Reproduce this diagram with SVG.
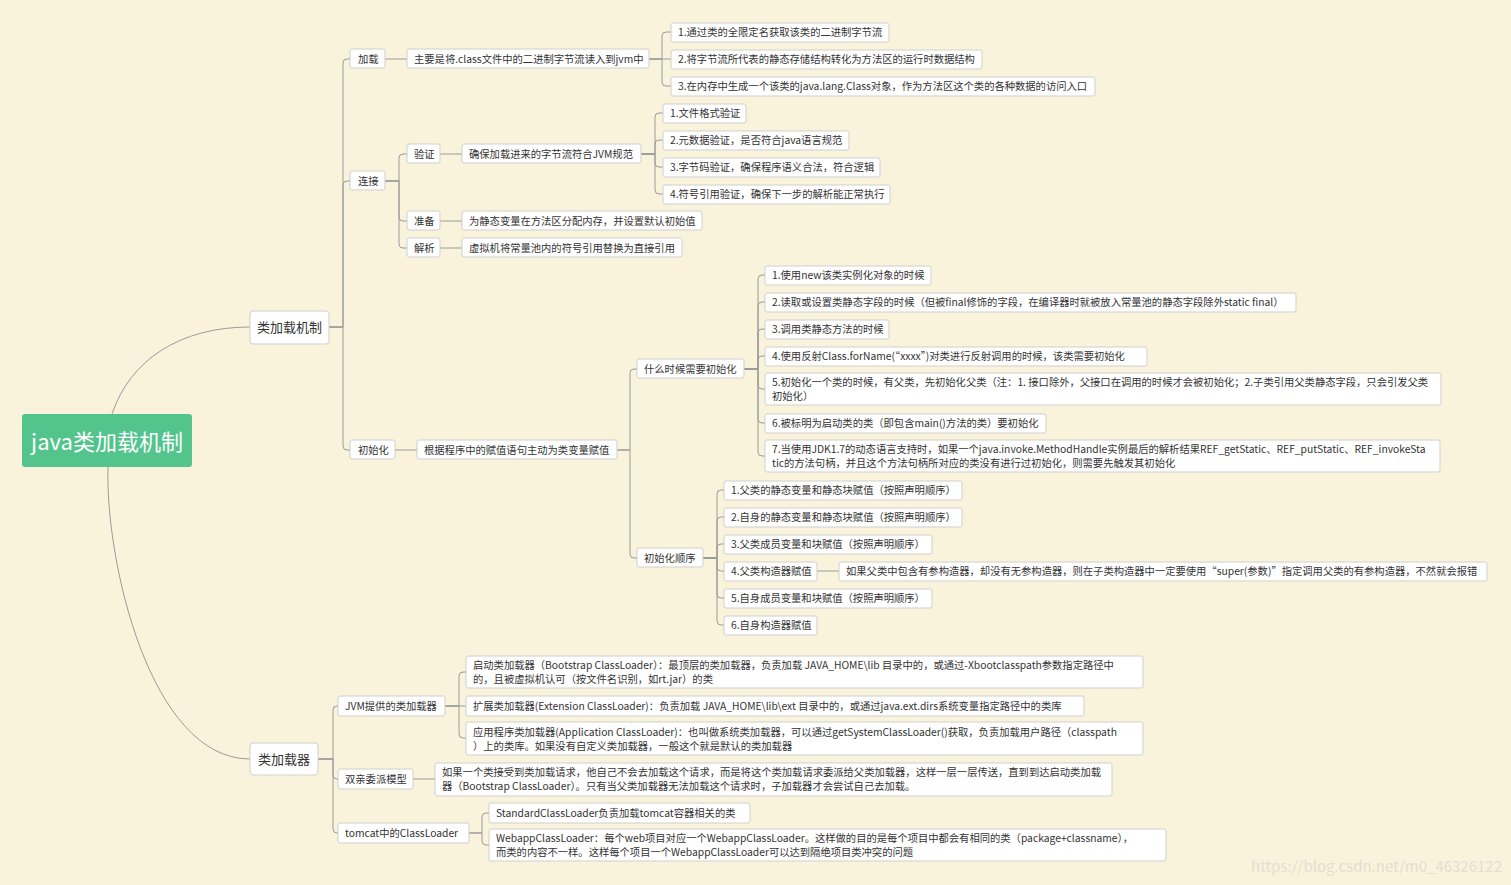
<svg xmlns="http://www.w3.org/2000/svg" width="1511" height="885" viewBox="0 0 1511 885">
<style>
text{font-family:"Noto Sans CJK SC","Liberation Sans",sans-serif;fill:#333;font-size:10.3px}
.n rect{fill:#fff;stroke:#cfcfcf;stroke-width:1}
.c path{fill:none;stroke:#9a9a9a;stroke-width:1}
.l2 text{font-size:13px}
</style>
<rect width="1511" height="885" fill="#faf3dc"/>
<g class="c" id="connectors">
<path d="M112,414C130,360 180,327 250,327"/>
<path d="M108,467C105,560 150,759 250,759"/>
<path d="M329,327H343V63Q343,59 347,59H350"/>
<path d="M329,327H343V185Q343,181 347,181H350"/>
<path d="M329,327H343V446Q343,450 347,450H350"/>
<path d="M385,59H407"/>
<path d="M649,59H662V36Q662,32 666,32H671"/>
<path d="M649,59H671"/>
<path d="M649,59H662V82Q662,86 666,86H671"/>
<path d="M385,181H399V158Q399,154 403,154H407"/>
<path d="M385,181H399V217Q399,221 403,221H407"/>
<path d="M385,181H399V244Q399,248 403,248H407"/>
<path d="M440,154H462"/>
<path d="M440,221H462"/>
<path d="M440,248H462"/>
<path d="M641,154H655V117Q655,113 659,113H663"/>
<path d="M641,154H655V144Q655,140 659,140H663"/>
<path d="M641,154H655V163Q655,167 659,167H663"/>
<path d="M641,154H655V190Q655,194 659,194H663"/>
<path d="M395,450H417"/>
<path d="M617,450H630V373Q630,369 634,369H637"/>
<path d="M617,450H630V554Q630,558 634,558H637"/>
<path d="M744,369H758V279Q758,275 762,275H765"/>
<path d="M744,369H758V306Q758,302 762,302H765"/>
<path d="M744,369H758V333Q758,329 762,329H765"/>
<path d="M744,369H758V360Q758,356 762,356H765"/>
<path d="M744,369H758V385Q758,389 762,389H765"/>
<path d="M744,369H758V419Q758,423 762,423H765"/>
<path d="M744,369H758V452Q758,456 762,456H765"/>
<path d="M703,558H717V494Q717,490 721,490H724"/>
<path d="M703,558H717V521Q717,517 721,517H724"/>
<path d="M703,558H717V548Q717,544 721,544H724"/>
<path d="M703,558H717V567Q717,571 721,571H724"/>
<path d="M703,558H717V594Q717,598 721,598H724"/>
<path d="M703,558H717V621Q717,625 721,625H724"/>
<path d="M817,571H839"/>
<path d="M318,759H333V710Q333,706 337,706H338"/>
<path d="M318,759H333V775Q333,779 337,779H338"/>
<path d="M318,759H333V829Q333,833 337,833H338"/>
<path d="M445,706H459V676Q459,672 463,672H466"/>
<path d="M445,706H466"/>
<path d="M445,706H459V734Q459,738 463,738H466"/>
<path d="M413,779H435"/>
<path d="M469,833H482V817Q482,813 486,813H489"/>
<path d="M469,833H482V841Q482,845 486,845H489"/>
</g>
<g id="root"><rect x="22" y="414" width="170" height="53" rx="3" fill="#52c48c"/><text x="107" y="450" text-anchor="middle" style="font-size:22px;fill:#fff">java类加载机制</text></g>
<g id="m1" class="n l2"><rect x="250" y="311" width="79" height="33" rx="3"/><text x="289.5" y="332" text-anchor="middle">类加载机制</text></g>
<g id="m2" class="n l2"><rect x="250" y="743" width="68" height="32" rx="3"/><text x="284" y="764" text-anchor="middle">类加载器</text></g>
<g id="load" class="n"><rect x="350" y="49" width="35" height="19" rx="2"/><text x="358" y="63">加载</text></g>
<g id="load-d" class="n"><rect x="407" y="49" width="242" height="19" rx="2"/><text x="414" y="63">主要是将.class文件中的二进制字节流读入到jvm中</text></g>
<g id="load1" class="n"><rect x="671" y="23" width="218" height="19" rx="2"/><text x="678" y="36">1.通过类的全限定名获取该类的二进制字节流</text></g>
<g id="load2" class="n"><rect x="671" y="50" width="311" height="19" rx="2"/><text x="678" y="63">2.将字节流所代表的静态存储结构转化为方法区的运行时数据结构</text></g>
<g id="load3" class="n"><rect x="671" y="77" width="424" height="19" rx="2"/><text x="678" y="90">3.在内存中生成一个该类的java.lang.Class对象，作为方法区这个类的各种数据的访问入口</text></g>
<g id="link" class="n"><rect x="350" y="171" width="35" height="19" rx="2"/><text x="358" y="185">连接</text></g>
<g id="verify" class="n"><rect x="407" y="144" width="33" height="19" rx="2"/><text x="414" y="158">验证</text></g>
<g id="verify-d" class="n"><rect x="462" y="144" width="179" height="19" rx="2"/><text x="469" y="158">确保加载进来的字节流符合JVM规范</text></g>
<g id="v1" class="n"><rect x="663" y="104" width="83" height="19" rx="2"/><text x="670" y="117">1.文件格式验证</text></g>
<g id="v2" class="n"><rect x="663" y="131" width="186" height="19" rx="2"/><text x="670" y="144">2.元数据验证，是否符合java语言规范</text></g>
<g id="v3" class="n"><rect x="663" y="158" width="217" height="19" rx="2"/><text x="670" y="171">3.字节码验证，确保程序语义合法，符合逻辑</text></g>
<g id="v4" class="n"><rect x="663" y="185" width="227" height="19" rx="2"/><text x="670" y="198">4.符号引用验证，确保下一步的解析能正常执行</text></g>
<g id="prep" class="n"><rect x="407" y="211" width="33" height="19" rx="2"/><text x="414" y="225">准备</text></g>
<g id="prep-d" class="n"><rect x="462" y="211" width="240" height="19" rx="2"/><text x="469" y="225">为静态变量在方法区分配内存，并设置默认初始值</text></g>
<g id="resolve" class="n"><rect x="407" y="238" width="33" height="19" rx="2"/><text x="414" y="252">解析</text></g>
<g id="resolve-d" class="n"><rect x="462" y="238" width="220" height="19" rx="2"/><text x="469" y="252">虚拟机将常量池内的符号引用替换为直接引用</text></g>
<g id="init" class="n"><rect x="350" y="440" width="45" height="19" rx="2"/><text x="358" y="454">初始化</text></g>
<g id="init-d" class="n"><rect x="417" y="440" width="200" height="19" rx="2"/><text x="424" y="454">根据程序中的赋值语句主动为类变量赋值</text></g>
<g id="when" class="n"><rect x="637" y="359" width="107" height="19" rx="2"/><text x="644" y="373">什么时候需要初始化</text></g>
<g id="w1" class="n"><rect x="765" y="266" width="166" height="19" rx="2"/><text x="772" y="279">1.使用new该类实例化对象的时候</text></g>
<g id="w2" class="n"><rect x="765" y="293" width="531" height="19" rx="2"/><text x="772" y="306">2.读取或设置类静态字段的时候（但被final修饰的字段，在编译器时就被放入常量池的静态字段除外static final）</text></g>
<g id="w3" class="n"><rect x="765" y="320" width="124" height="19" rx="2"/><text x="772" y="333">3.调用类静态方法的时候</text></g>
<g id="w4" class="n"><rect x="765" y="347" width="382" height="19" rx="2"/><text x="772" y="360">4.使用反射Class.forName(“xxxx”)对类进行反射调用的时候，该类需要初始化</text></g>
<g id="w5" class="n"><rect x="765" y="373" width="676" height="32" rx="2"/><text x="772" y="386">5.初始化一个类的时候，有父类，先初始化父类（注：1. 接口除外，父接口在调用的时候才会被初始化；2.子类引用父类静态字段，只会引发父类</text><text x="772" y="400">初始化）</text></g>
<g id="w6" class="n"><rect x="765" y="414" width="281" height="19" rx="2"/><text x="772" y="427">6.被标明为启动类的类（即包含main()方法的类）要初始化</text></g>
<g id="w7" class="n"><rect x="765" y="440" width="675" height="32" rx="2"/><text x="772" y="453">7.当使用JDK1.7的动态语言支持时，如果一个java.invoke.MethodHandle实例最后的解析结果REF_getStatic、REF_putStatic、REF_invokeSta</text><text x="772" y="467">tic的方法句柄，并且这个方法句柄所对应的类没有进行过初始化，则需要先触发其初始化</text></g>
<g id="order" class="n"><rect x="637" y="548" width="66" height="19" rx="2"/><text x="644" y="562">初始化顺序</text></g>
<g id="o1" class="n"><rect x="724" y="481" width="238" height="19" rx="2"/><text x="731" y="494">1.父类的静态变量和静态块赋值（按照声明顺序）</text></g>
<g id="o2" class="n"><rect x="724" y="508" width="238" height="19" rx="2"/><text x="731" y="521">2.自身的静态变量和静态块赋值（按照声明顺序）</text></g>
<g id="o3" class="n"><rect x="724" y="535" width="208" height="19" rx="2"/><text x="731" y="548">3.父类成员变量和块赋值（按照声明顺序）</text></g>
<g id="o4" class="n"><rect x="724" y="562" width="93" height="19" rx="2"/><text x="731" y="575">4.父类构造器赋值</text></g>
<g id="o4-d" class="n"><rect x="839" y="562" width="648" height="19" rx="2"/><text x="846" y="575">如果父类中包含有参构造器，却没有无参构造器，则在子类构造器中一定要使用“super(参数)”指定调用父类的有参构造器，不然就会报错</text></g>
<g id="o5" class="n"><rect x="724" y="589" width="208" height="19" rx="2"/><text x="731" y="602">5.自身成员变量和块赋值（按照声明顺序）</text></g>
<g id="o6" class="n"><rect x="724" y="616" width="93" height="19" rx="2"/><text x="731" y="629">6.自身构造器赋值</text></g>
<g id="jvm" class="n"><rect x="338" y="696" width="107" height="20" rx="2"/><text x="345" y="710">JVM提供的类加载器</text></g>
<g id="boot" class="n"><rect x="466" y="656" width="677" height="32" rx="2"/><text x="473" y="669">启动类加载器（Bootstrap ClassLoader）：最顶层的类加载器，负责加载 JAVA_HOME\lib 目录中的，或通过-Xbootclasspath参数指定路径中</text><text x="473" y="683">的，且被虚拟机认可（按文件名识别，如rt.jar）的类</text></g>
<g id="ext" class="n"><rect x="466" y="696" width="618" height="20" rx="2"/><text x="473" y="710">扩展类加载器(Extension ClassLoader)：负责加载 JAVA_HOME\lib\ext 目录中的，或通过java.ext.dirs系统变量指定路径中的类库</text></g>
<g id="app" class="n"><rect x="466" y="722" width="677" height="33" rx="2"/><text x="473" y="736">应用程序类加载器(Application ClassLoader)：也叫做系统类加载器，可以通过getSystemClassLoader()获取，负责加载用户路径（classpath</text><text x="473" y="750">）上的类库。如果没有自定义类加载器，一般这个就是默认的类加载器</text></g>
<g id="parent" class="n"><rect x="338" y="769" width="75" height="20" rx="2"/><text x="345" y="783">双亲委派模型</text></g>
<g id="parent-d" class="n"><rect x="435" y="763" width="677" height="33" rx="2"/><text x="442" y="776">如果一个类接受到类加载请求，他自己不会去加载这个请求，而是将这个类加载请求委派给父类加载器，这样一层一层传送，直到到达启动类加载</text><text x="442" y="790">器（Bootstrap ClassLoader）。只有当父类加载器无法加载这个请求时，子加载器才会尝试自己去加载。</text></g>
<g id="tomcat" class="n"><rect x="338" y="823" width="131" height="20" rx="2"/><text x="345" y="837">tomcat中的ClassLoader</text></g>
<g id="std" class="n"><rect x="489" y="803" width="261" height="20" rx="2"/><text x="496" y="817">StandardClassLoader负责加载tomcat容器相关的类</text></g>
<g id="web" class="n"><rect x="489" y="829" width="677" height="32" rx="2"/><text x="496" y="842">WebappClassLoader：每个web项目对应一个WebappClassLoader。这样做的目的是每个项目中都会有相同的类（package+classname），</text><text x="496" y="856">而类的内容不一样。这样每个项目一个WebappClassLoader可以达到隔绝项目类冲突的问题</text></g>
<text x="1502" y="872" text-anchor="end" style="font-size:15px;fill:#e4ddd0">https://blog.csdn.net/m0_46326122</text>
</svg>
